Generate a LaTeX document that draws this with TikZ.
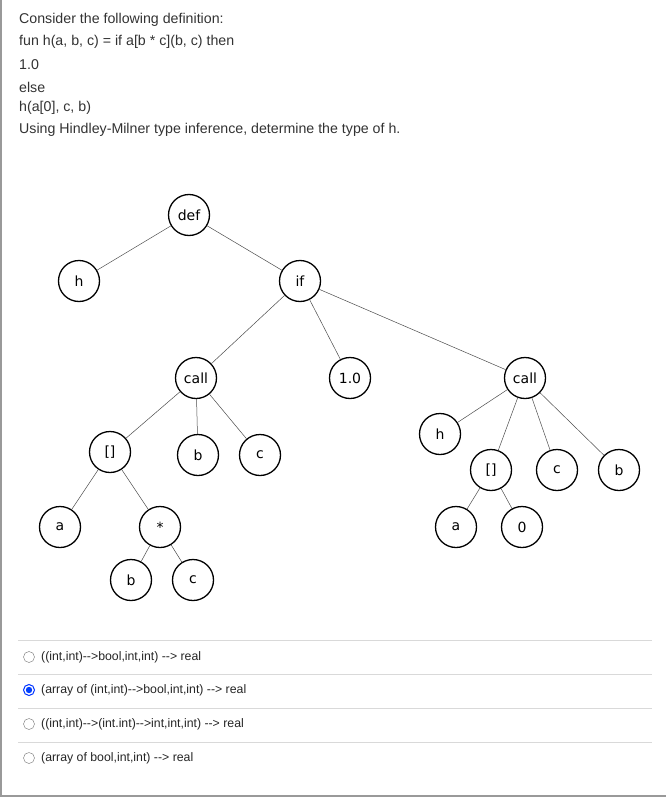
\documentclass[tikz,border=0pt]{standalone}
\usepackage{fontspec}
\setmainfont{Liberation Sans}[Ligatures=NoCommon]
\newfontfamily\nodefont{DejaVu Sans}
\begin{document}
\begin{tikzpicture}[x=1pt,y=-1pt,
  tn/.style={circle,draw,line width=1.3pt,minimum size=41pt,inner sep=0pt,font=\nodefont\fontsize{14}{16}\selectfont},
  txt/.style={anchor=west,inner sep=0pt,text=black!80,font=\fontsize{14.2}{16}\selectfont},
  opt/.style={anchor=west,inner sep=0pt,text=black!85,font=\fontsize{12.3}{14}\selectfont},
  sep/.style={draw=black!15,line width=0.8pt},
  radio/.style={circle,draw=black!55,minimum size=11pt,inner sep=0pt}]
\useasboundingbox (0,0) rectangle (666,797);
\fill[white] (0,0) rectangle (666,797);
\draw[black!40,line width=1.5pt] (0.75,0) -- (0.75,796) -- (666,796);
\node[txt] (t1) at (19,20) {Consider the following definition:};
\node[txt] (t2) at (19,42) {fun h(a, b, c) = if a[b * c](b, c) then};
\node[txt] (t3) at (19,65) {1.0};
\node[txt] (t4) at (19,87) {else};
\node[txt] (t5) at (19,108) {h(a[0], c, b)};
\node[txt] (t6) at (19,130) {Using Hindley-Milner type inference, determine the type of h.};
\node[tn] (def) at (189,215) {def};
\node[tn] (h) at (79,281) {h};
\node[tn] (if) at (300,281) {if};
\node[tn] (call1) at (196,378) {call};
\node[tn] (one) at (350,378) {1.0};
\node[tn] (call2) at (525,378) {call};
\node[tn] (br1) at (110,452) {[]};
\node[tn] (b1) at (198,455) {b};
\node[tn] (c1) at (260,455) {c};
\node[tn] (h2) at (440,434) {h};
\node[tn] (br2) at (491,470) {[]};
\node[tn] (c2) at (557,470) {c};
\node[tn] (b2) at (619,470) {b};
\node[tn] (a1) at (60,527) {a};
\node[tn] (star) at (160,527) {*};
\node[tn] (a2) at (456,527) {a};
\node[tn] (zero) at (522,527) {0};
\node[tn] (b3) at (131,580) {b};
\node[tn] (c3) at (193,580) {c};
\foreach \u/\v in {def/h,def/if,if/call1,if/one,if/call2,call1/br1,call1/b1,call1/c1,br1/a1,br1/star,star/b3,star/c3,call2/h2,call2/br2,call2/c2,call2/b2,br2/a2,br2/zero}
  \draw[black!70,line width=0.5pt] (\u) -- (\v);
\coordinate (l1a) at (18,640); \coordinate (l1b) at (652,640);
\coordinate (l2a) at (18,674); \coordinate (l2b) at (652,674);
\coordinate (l3a) at (18,708); \coordinate (l3b) at (652,708);
\coordinate (l4a) at (18,742); \coordinate (l4b) at (652,742);
\draw[sep] (l1a) -- (l1b); \draw[sep] (l2a) -- (l2b); \draw[sep] (l3a) -- (l3b); \draw[sep] (l4a) -- (l4b);
\node[radio] (r1) at (29,657) {};
\node[radio,draw=blue!80!cyan,line width=1pt] (r2) at (29,690) {};
\fill[blue!75!cyan] (r2) circle (3.2pt);
\node[radio] (r3) at (29,724) {};
\node[radio] (r4) at (29,758) {};
\node[opt] (o1) at (41,657) {((int,int){-}{-}>bool,int,int) {-}{-}> real};
\node[opt] (o2) at (41,690) {(array of (int,int){-}{-}>bool,int,int) {-}{-}> real};
\node[opt] (o3) at (41,724) {((int,int){-}{-}>(int.int){-}{-}>int,int,int) {-}{-}> real};
\node[opt] (o4) at (41,758) {(array of bool,int,int) {-}{-}> real};
\end{tikzpicture}
\end{document}
